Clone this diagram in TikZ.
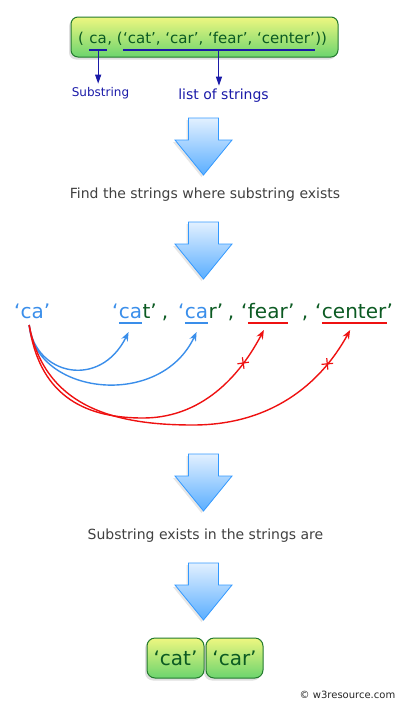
\documentclass[tikz,border=0pt]{standalone}
\usepackage{fontspec}
\setmainfont{DejaVu Sans}
\usetikzlibrary{positioning,shadows,shapes.misc,arrows.meta}
\definecolor{boxtop}{HTML}{EEF780}
\definecolor{boxbot}{HTML}{6CD46E}
\definecolor{boxline}{HTML}{237A2E}
\definecolor{strgreen}{HTML}{0B5A22}
\definecolor{labblue}{HTML}{1A1AA8}
\definecolor{strblue}{HTML}{3A8EEA}
\definecolor{arrtop}{HTML}{E2F0FF}
\definecolor{arrbot}{HTML}{5AAEFF}
\definecolor{arrline}{HTML}{3399FF}
\definecolor{txtgray}{HTML}{404040}
\definecolor{hitred}{HTML}{EE1111}
\tikzset{
  greenbox/.style={draw=boxline,line width=1pt,rounded corners=7pt,top color=boxtop,bottom color=boxbot,
    drop shadow={shadow xshift=-2pt,shadow yshift=-2.5pt,opacity=0.25}},
  word/.style={inner sep=0pt,font=\fontsize{20}{24}\selectfont},
  boxword/.style={inner sep=0pt,text=strgreen,font=\fontsize{15}{18}\selectfont},
  note/.style={text=txtgray,font=\fontsize{14}{17}\selectfont},
  pointer/.style={labblue,line width=1pt,-{Triangle[width=6pt,length=9pt]}},
  link/.style={line width=1.4pt,-{Stealth[width=7pt,length=9pt]}},
  crossmark/.style={cross out,draw=hitred,line width=1.2pt,minimum size=7pt,inner sep=0pt,sloped},
  bigarrow/.pic={
    \draw[draw=arrline,line width=0.8pt,top color=arrtop,bottom color=arrbot,
      drop shadow={shadow xshift=-2pt,shadow yshift=-2pt,opacity=0.2}]
      (-15,0) -- (15,0) -- (15,22) -- (28.5,22) -- (0,57) -- (-28.5,22) -- (-15,22) -- cycle;
  }
}
\begin{document}
\begin{tikzpicture}[x=1pt,y=-1pt]
    \useasboundingbox (0,0) rectangle (407,710);
    \node[greenbox,minimum width=267pt,minimum height=40pt] (inbox) at (204.5,37) {};
    \node[boxword,anchor=base west] (bxl) at (78,43.5) {(};
    \node[boxword,base right=5pt of bxl] (bxca) {ca};
    \node[boxword,base right=0pt of bxca] (bxmid) {,\ (};
    \node[boxword,base right=0pt of bxmid] (bxlist) {‘cat’, ‘car’, ‘fear’, ‘center’};
    \node[boxword,base right=0pt of bxlist] (bxr) {))};
    \node[text=labblue,font=\fontsize{12}{14}\selectfont] (lbsub) at (100.5,93) {Substring};
    \node[text=labblue,font=\fontsize{14}{17}\selectfont] (lblist) at (223.5,96) {list of strings};
    \foreach \w/\l in {bxca/lbsub, bxlist/lblist}{
        \draw[labblue,line width=2pt] ([yshift=-6.5pt]\w.base west) -- ([yshift=-6.5pt]\w.base east);
        \coordinate (ul\w) at ([yshift=-6.5pt]\w.base);
        \draw[pointer] (ul\w) -- (ul\w |- \l.north);
    }
    \foreach \y/\n in {118/a, 222/b, 454/c, 563/d}
        \pic (arr\n) at (203.5,\y) {bigarrow};
    \node[note] (step1) at (205,195) {Find the strings where substring exists};
    \node[note] (step2) at (205.5,536) {Substring exists in the strings are};
    % strings row
    \node[word,text=strblue,anchor=base west] (ca) at (14,318) {‘ca’};
    \node[word,text=strblue,anchor=base west] (catq) at (112,318) {‘};
    \node[word,text=strblue,base right=0pt of catq] (catca) {ca};
    \node[word,text=strgreen,base right=0pt of catca] (catt) {t’};
    \node[word,text=strblue,anchor=base west] (carq) at (178,318) {‘};
    \node[word,text=strblue,base right=0pt of carq] (carca) {ca};
    \node[word,text=strgreen,base right=0pt of carca] (carr) {r’};
    \node[word,text=strgreen,anchor=base west] (fearq) at (241,318) {‘};
    \node[word,text=strgreen,base right=0pt of fearq] (fearw) {fear};
    \node[word,text=strgreen,base right=0pt of fearw] (feare) {’};
    \node[word,text=strgreen,anchor=base west] (cenq) at (315,318) {‘};
    \node[word,text=strgreen,base right=0pt of cenq] (cenw) {center};
    \node[word,text=strgreen,base right=0pt of cenw] (cene) {’};
    \foreach \x/\n in {165/a, 231/b, 305/c}
        \node[word,text=strgreen,anchor=base] (comma\n) at (\x,318) {,};
    \foreach \w/\c in {catca/strblue, carca/strblue, fearw/hitred, cenw/hitred}
        \draw[\c,line width=2pt] ([yshift=-5pt]\w.base west) -- ([yshift=-5pt]\w.base east);
    \coordinate (cafrom) at ([shift={(-3,7)}]ca.base);
    \coordinate (catend) at ([shift={(-2,14)}]catca.base);
    \coordinate (carend) at ([shift={(0,14)}]carca.base);
    \coordinate (fearend) at ([shift={(-4,12)}]fearw.base);
    \coordinate (cenend) at ([shift={(-4,12)}]cenw.base);
    \draw[link,strblue] (cafrom) .. controls (35,375) and (100,390) .. (catend);
    \draw[link,strblue] (cafrom) .. controls (35,395) and (160,410) .. (carend);
    \draw[link,hitred] (cafrom) .. controls (40,400) and (90,418) .. (143,418)
        .. controls (195,418) and (235,385) .. (fearend) node[pos=0.78,crossmark]{};
    \draw[link,hitred] (cafrom) .. controls (45,410) and (120,425) .. (193,425)
        .. controls (270,425) and (320,385) .. (cenend) node[pos=0.78,crossmark]{};
    % result
    \node[greenbox,word,text=strgreen,rounded corners=8pt,minimum width=57pt,minimum height=40pt] (rescat) at (175.5,658) {‘cat’};
    \node[greenbox,word,text=strgreen,rounded corners=8pt,minimum width=57pt,minimum height=40pt,right=1pt of rescat] (rescar) {‘car’};
    \node[text=black!85,font=\fontsize{10}{12}\selectfont] (copy) at (347.5,695) {© w3resource.com};
\end{tikzpicture}
\end{document}
